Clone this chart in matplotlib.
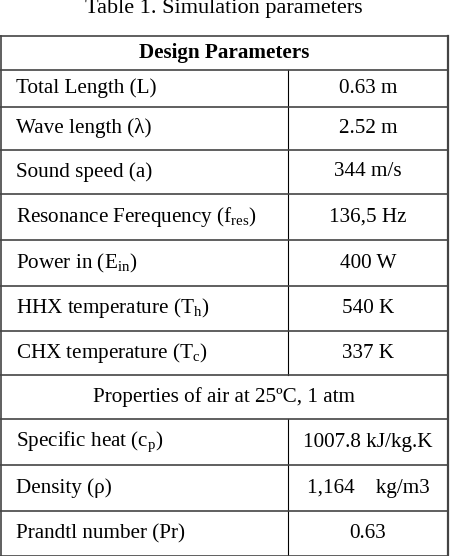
import matplotlib
matplotlib.use("Agg")
import matplotlib.pyplot as plt

plt.rcParams['font.family'] = ['Liberation Serif', 'DejaVu Serif']
plt.rcParams['mathtext.fontset'] = 'custom'
plt.rcParams['mathtext.rm'] = 'Liberation Serif'
plt.rcParams['mathtext.it'] = 'Liberation Serif'

title = "Table 1. Simulation parameters"
header1 = "Design Parameters"
design_params = ["Total Length (L)", "Wave length (λ)", "Sound speed (a)",
                 r"Resonance Ferequency (f$_{\mathrm{res}}$)", r"Power in (E$_{\mathrm{in}}$)",
                 r"HHX temperature (T$_{\mathrm{h}}$)", r"CHX temperature (T$_{\mathrm{c}}$)"]
design_values = ["0.63 m", "2.52 m", "344 m/s", "136,5 Hz", "400 W", "540 K", "337 K"]
header2 = "Properties of air at 25ºC, 1 atm"
air_params = [r"Specific heat (c$_{\mathrm{p}}$)", "Density (ρ)", "Prandtl number (Pr)"]
air_values = ["1007.8 kJ/kg.K", "1,164    kg/m3", "0.63"]

lines_y = [36, 70, 107, 150, 194, 240, 286, 331, 375, 419, 465, 511, 556]
xl, xm, xr = 0, 288, 448
fs = 15.2

fig = plt.figure(figsize=(4.5, 5.56), dpi=100)
ax = fig.add_axes([0, 0, 1, 1])
ax.set_xlim(0, 450); ax.set_ylim(556, 0); ax.axis('off')

ax.text(224, 9, title, ha='center', va='center', fontsize=16)

rows = [(header1, None, True)] + [(p, v, False) for p, v in zip(design_params, design_values)] \
     + [(header2, None, False)] + [(p, v, False) for p, v in zip(air_params, air_values)]

for i, (lab, val, bold) in enumerate(rows):
    y0, y1 = lines_y[i], lines_y[i + 1]
    yc = (y0 + y1) / 2
    if val is None:
        ax.text((xl + xr) / 2, yc, lab, ha='center', va='center', fontsize=fs,
                fontweight='bold' if bold else 'normal')
    else:
        ax.text(16, yc, lab, ha='left', va='center', fontsize=fs)
        ax.text((xm + xr) / 2, yc, val, ha='center', va='center', fontsize=fs)
        ax.plot([xm, xm], [y0, y1], color='black', lw=0.8)

for y in lines_y:
    ax.plot([xl, xr], [y, y], color='#444444', lw=1.2)
ax.plot([xl + 0.5, xl + 0.5], [lines_y[0], lines_y[-1]], color='#444444', lw=1.2)
ax.plot([xr, xr], [lines_y[0], lines_y[-1]], color='#444444', lw=1.6)

fig.savefig("out.png", dpi=100)
